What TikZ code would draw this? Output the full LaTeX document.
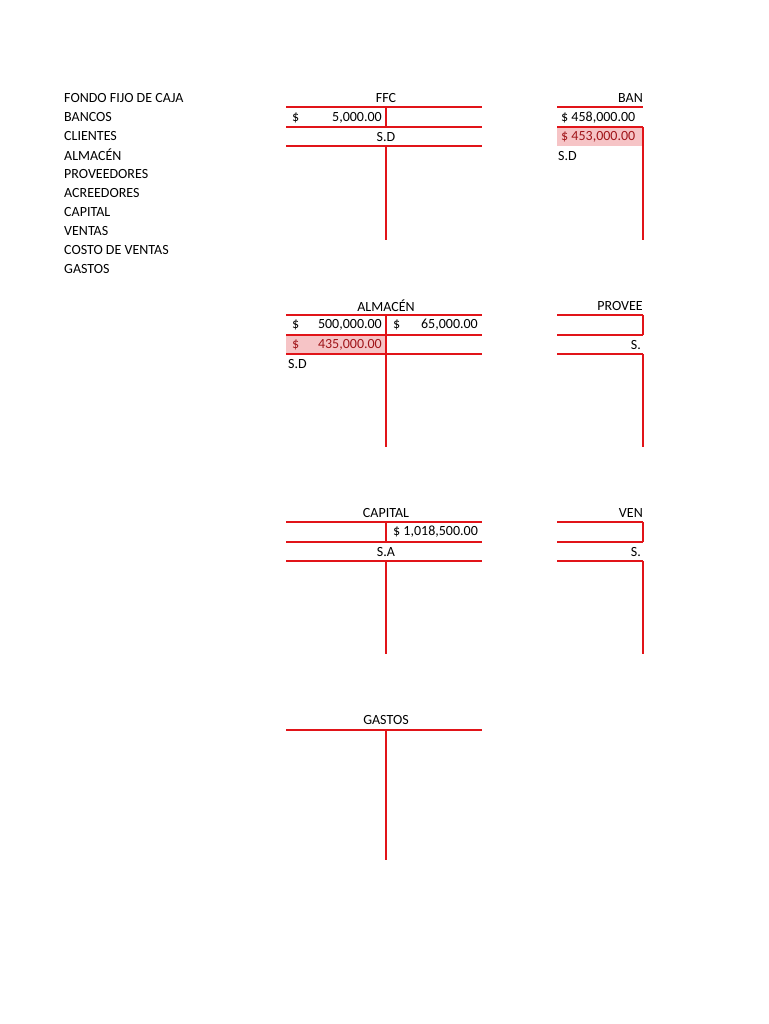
\documentclass[tikz,border=0pt]{standalone}
\usepackage{fontspec}
\setmainfont{Carlito}
\definecolor{linea}{RGB}{225,20,25}
\definecolor{rosa}{RGB}{246,196,198}
\definecolor{rojot}{RGB}{160,20,25}
\tikzset{
	cuenta/.style={color=linea,line width=2pt},
	eje/.style={color=linea,line width=2.6pt},
	txt/.style={inner sep=0pt,font=\fontsize{14}{15}\selectfont},
}
\begin{document}
\begin{tikzpicture}[x=1pt,y=-1pt]
	\useasboundingbox (0,0) rectangle (768,1024);
	% lista de cuentas
	\foreach \n [count=\i] in {FONDO FIJO DE CAJA,BANCOS,CLIENTES,ALMACÉN,PROVEEDORES,ACREEDORES,CAPITAL,VENTAS,COSTO DE VENTAS,GASTOS}
		\node[txt,anchor=west] (lista\i) at (64,{98+19*(\i-1)}) {\n};
	% celdas sombreadas
	\fill[rosa] (557,127) rectangle (643,146);
	\fill[rosa] (286,335) rectangle (386,354);
	% FFC
	\node[txt] (ffc) at (386,98) {FFC};
	\draw[cuenta] (286,107)--(482,107) (286,127)--(482,127) (286,146)--(482,146);
	\draw[eje] (386,107)--(386,127) (386,146)--(386,240);
	\node[txt,anchor=west] (ffcd) at (292,118) {\$};
	\node[txt,anchor=east] (ffcdv) at (382,118) {5,000.00};
	\node[txt] (ffcsd) at (386,137) {S.D};
	% BANCOS
	\node[txt,anchor=east] (ban) at (643,98) {BAN};
	\draw[cuenta] (557,107)--(643,107) (557,127)--(643,127);
	\draw[eje] (643,127)--(643,240);
	\node[txt,anchor=west] (band) at (561,118) {\$ 458,000.00};
	\node[txt,anchor=west,text=rojot] (bansd) at (561,137) {\$ 453,000.00};
	\node[txt,anchor=west] (bansdt) at (558,156) {S.D};
	% ALMACEN
	\node[txt] (alm) at (386,306) {ALMACÉN};
	\draw[cuenta] (286,315)--(482,315) (286,335)--(482,335) (286,354)--(482,354);
	\draw[eje] (386,315)--(386,447);
	\node[txt,anchor=west] (almd) at (292,325) {\$};
	\node[txt,anchor=east] (almdv) at (382,325) {500,000.00};
	\node[txt,anchor=west] (almh) at (393,325) {\$};
	\node[txt,anchor=east] (almhv) at (478,325) {65,000.00};
	\node[txt,anchor=west,text=rojot] (almsd) at (292,345) {\$};
	\node[txt,anchor=east,text=rojot] (almsdv) at (382,345) {435,000.00};
	\node[txt,anchor=west] (almsdt) at (288,364) {S.D};
	% PROVEEDORES
	\node[txt,anchor=east] (prov) at (643,306) {PROVEE};
	\draw[cuenta] (557,315)--(643,315) (557,335)--(643,335) (557,354)--(643,354);
	\draw[eje] (643,315)--(643,335) (643,354)--(643,447);
	\node[txt,anchor=east] (provs) at (641,345) {S.};
	% CAPITAL
	\node[txt] (cap) at (386,513) {CAPITAL};
	\draw[cuenta] (286,522)--(482,522) (286,542)--(482,542) (286,561)--(482,561);
	\draw[eje] (386,522)--(386,542) (386,561)--(386,654);
	\node[txt,anchor=west] (caph) at (393,532) {\$ 1,018,500.00};
	\node[txt] (capsa) at (386,552) {S.A};
	% VENTAS
	\node[txt,anchor=east] (ven) at (643,513) {VEN};
	\draw[cuenta] (557,522)--(643,522) (557,542)--(643,542) (557,561)--(643,561);
	\draw[eje] (643,522)--(643,542) (643,561)--(643,654);
	\node[txt,anchor=east] (vens) at (641,552) {S.};
	% GASTOS
	\node[txt] (gas) at (386,720) {GASTOS};
	\draw[cuenta] (286,730)--(482,730);
	\draw[eje] (386,730)--(386,860);
\end{tikzpicture}
\end{document}
